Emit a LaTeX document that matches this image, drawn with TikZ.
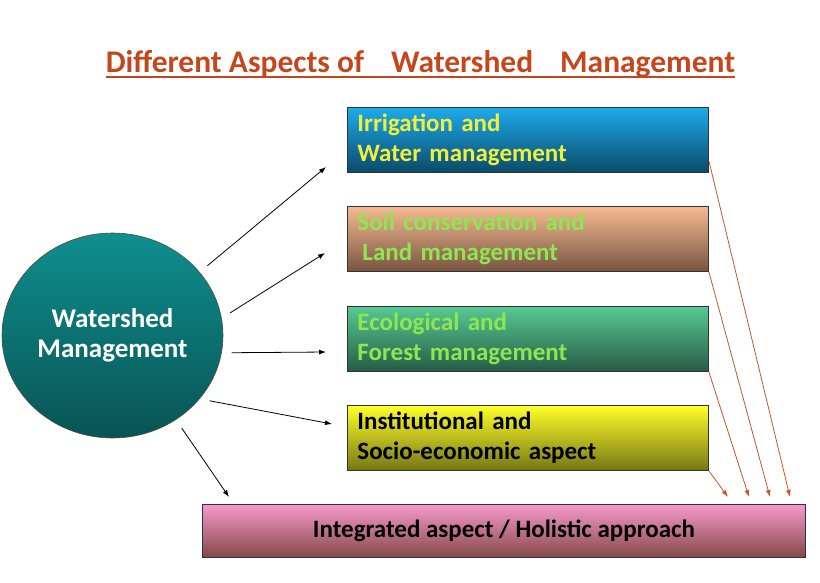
\documentclass[tikz,border=0pt]{standalone}
\usepackage{fontspec}
\setmainfont{Carlito}
\usetikzlibrary{calc, arrows.meta, shapes.geometric}

\definecolor{titlered}{RGB}{196,70,28}
\definecolor{linkred}{RGB}{200,84,40}
\definecolor{wateryellow}{RGB}{240,240,60}
\definecolor{leafgreen}{RGB}{140,232,80}

\begin{document}
\begin{tikzpicture}[x=1pt, y=-1pt,
  aspect/.style={draw=black!80, line width=0.9pt, anchor=north west,
    minimum height=65pt, text width=341pt, inner xsep=10pt, align=left,
    font=\fontsize{25}{30}\selectfont\bfseries},
  arr/.style={-{Latex[length=7pt, width=5pt]}, line width=0.8pt, shorten <=10pt},
  redarr/.style={linkred, -{Latex[length=7pt, width=5pt]}, line width=0.8pt}]
  \useasboundingbox (0,0) rectangle (820,582);

  % title
  \node[titlered, font=\fontsize{31.5}{36}\selectfont\bfseries, anchor=base, inner sep=0pt] (title) at (420.5,72)
    {Different Aspects of\hspace{27pt}Watershed\hspace{27pt}Management};
  \draw[titlered, line width=2pt] ($(title.base west)+(0,5)$) -- ($(title.base east)+(0,5)$);

  % centre
  \node[ellipse, draw=black!70, line width=0.6pt, top color={rgb,255:red,16;green,142;blue,142},
    bottom color={rgb,255:red,8;green,84;blue,84}, minimum width=221pt, minimum height=205pt,
    inner sep=0pt, text=white, align=center, font=\fontsize{27}{30}\selectfont\bfseries]
    (wm) at (112.5,335.5) {Watershed\\Management};

  % the four aspects
  \node[aspect, top color={rgb,255:red,30;green,170;blue,235}, bottom color={rgb,255:red,10;green,75;blue,105},
    text=wateryellow] (b1) at (347,107) {Irrigation and\\Water management};
  \node[aspect, top color={rgb,255:red,246;green,186;blue,146}, bottom color={rgb,255:red,120;green,84;blue,64},
    text=leafgreen] (b2) at (347,206) {Soil conservation and\\\hspace*{5pt}Land management};
  \node[aspect, top color={rgb,255:red,86;green,202;blue,146}, bottom color={rgb,255:red,40;green,90;blue,70},
    text=leafgreen] (b3) at (347,306) {Ecological and\\Forest management};
  \node[aspect, top color={rgb,255:red,255;green,255;blue,40}, bottom color={rgb,255:red,118;green,118;blue,20},
    text=black] (b4) at (347,405) {Institutional and\\Socio-economic aspect};

  % holistic
  \node[draw=black!80, line width=0.9pt, anchor=north west, minimum width=603pt, minimum height=53pt,
    top color={rgb,255:red,246;green,152;blue,206}, bottom color={rgb,255:red,132;green,74;blue,70},
    font=\fontsize{25}{30}\selectfont\bfseries] (hol) at (202,504)
    {Integrated aspect / Holistic approach};

  \coordinate (t1) at (326,167);
  \coordinate (t2) at (325,253);
  \coordinate (t3) at (326,352);
  \coordinate (t4) at (332,424);
  \coordinate (t5) at (229,497);
  \draw[arr] (wm.36) -- (t1);
  \draw[arr] (wm.9) -- (t2);
  \draw[arr] (wm.-9) -- (t3);
  \draw[arr] (wm.-36) -- (t4);
  \draw[arr] (wm.-53) -- (t5);

  \coordinate (h1) at (790,497);
  \coordinate (h2) at (770,497);
  \coordinate (h3) at (749,497);
  \coordinate (h4) at (728,497);
  \draw[redarr] ($(b1.south east)+(0,-12)$) -- (h1);
  \draw[redarr] (b2.south east) -- (h2);
  \draw[redarr] (b3.south east) -- (h3);
  \draw[redarr] (b4.south east) -- (h4);
\end{tikzpicture}
\end{document}
